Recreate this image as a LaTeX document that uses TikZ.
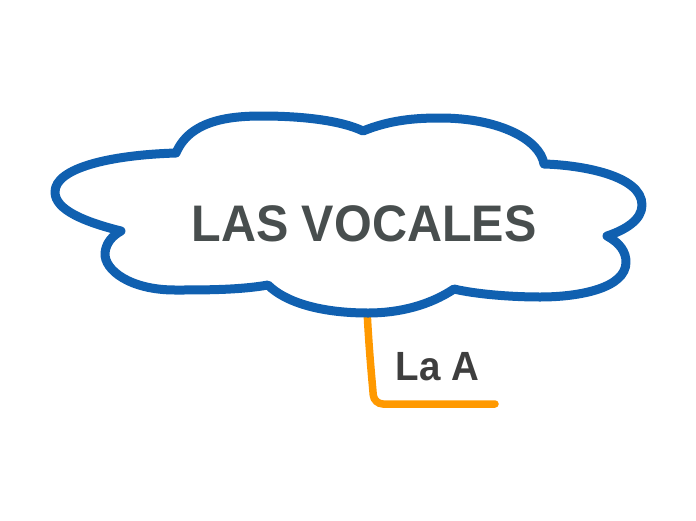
\documentclass[tikz,border=0pt]{standalone}
\usepackage{fontspec}
\setmainfont{Liberation Sans}
\definecolor{cloudblue}{RGB}{16,96,176}
\definecolor{linkorange}{RGB}{255,153,0}
\definecolor{titlegray}{RGB}{72,78,78}
\definecolor{labelgray}{RGB}{62,62,62}
\tikzset{
  cloudline/.style={draw=cloudblue,line width=9pt,line join=round},
  linkline/.style={draw=linkorange,line width=7.5pt,line cap=round,rounded corners=9pt},
  titletext/.style={font=\bfseries\fontsize{48.5}{55}\selectfont,text=titlegray,inner sep=0pt,yscale=1.06},
  labeltext/.style={font=\bfseries\fontsize{38.5}{44}\selectfont,text=labelgray,inner sep=0pt,yscale=1.06}
}
\begin{document}
\begin{tikzpicture}[x=1pt,y=-1pt]
\useasboundingbox (0,0) rectangle (696,520);
\coordinate (cb) at (367,310);
\coordinate (tip) at (495,404);
\draw[linkline] (cb) .. controls (369,350) and (372,380) .. (374,404) -- (tip);
\draw[cloudline,fill=white]
  (176,153) .. controls (190,120) and (230,116) .. (262,116)
  .. controls (300,116) and (340,120) .. (363,131)
  .. controls (390,120) and (415,118) .. (440,118)
  .. controls (500,118) and (540,140) .. (544,164)
  .. controls (580,165) and (642,175) .. (642,205)
  .. controls (642,220) and (625,230) .. (607,236)
  .. controls (620,243) and (626,252) .. (626,262)
  .. controls (626,288) and (580,297) .. (540,297)
  .. controls (510,297) and (475,294) .. (454,289)
  .. controls (430,305) and (400,313) .. (368,313)
  .. controls (320,313) and (285,302) .. (268,285)
  .. controls (240,290) and (205,290) .. (175,290)
  .. controls (130,290) and (104,270) .. (105,253)
  .. controls (106,243) and (112,236) .. (121,231)
  .. controls (85,222) and (55,210) .. (55,192)
  .. controls (55,168) and (110,155) .. (176,153) -- cycle;
\node[titletext] (title) at (364,223.5) {LAS VOCALES};
\node[labeltext] (laa) at (437.5,366.5) {La A};
\end{tikzpicture}
\end{document}
